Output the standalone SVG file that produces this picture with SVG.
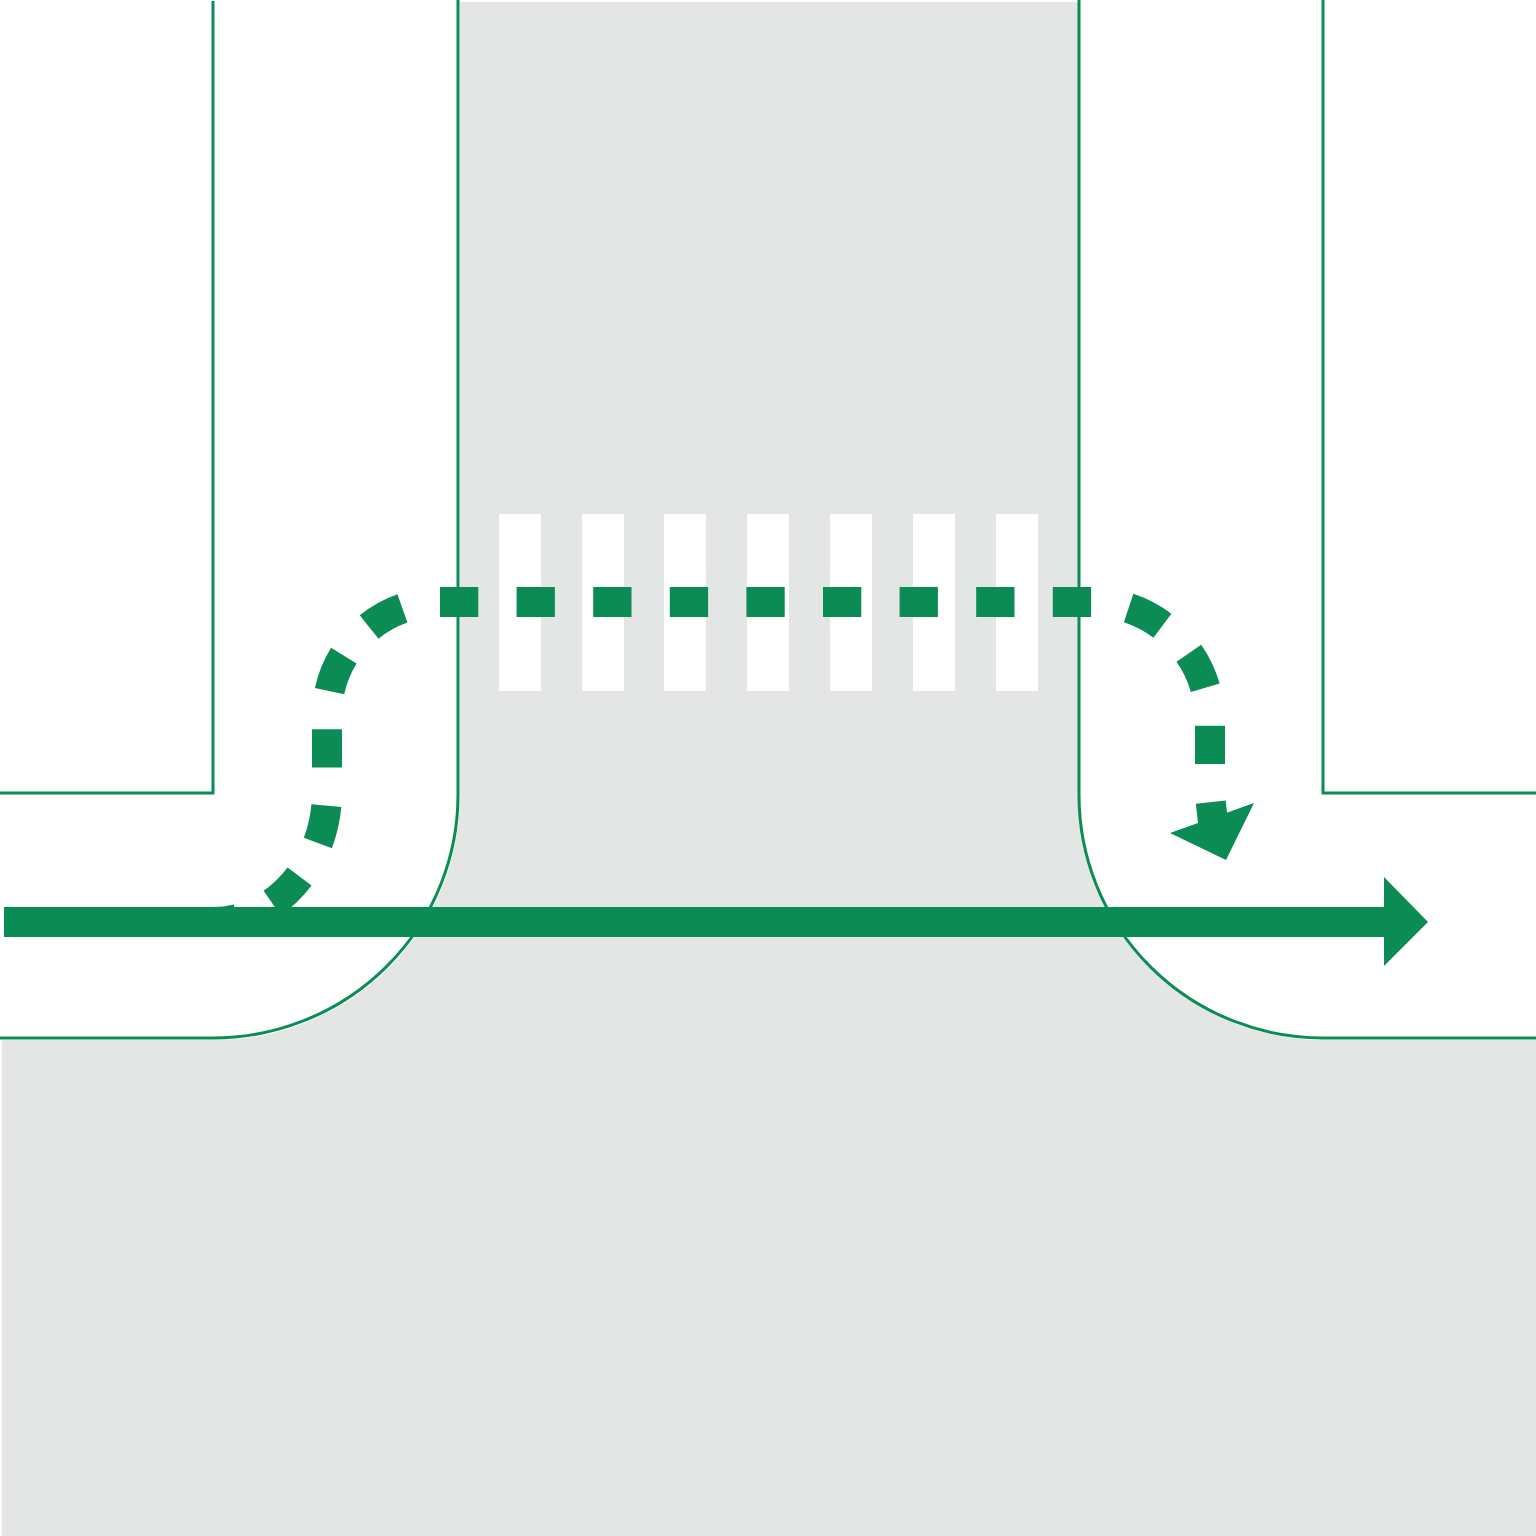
<svg xmlns="http://www.w3.org/2000/svg" width="1536" height="1536" viewBox="0 0 1536 1536">
  <style>
    .road { fill: #e4e5e5; }
    .edge { fill: none; stroke: #0b8c55; stroke-width: 3; }
    .stripe { fill: #ffffff; }
    .dash { fill: none; stroke: #0b8c55; stroke-width: 30; stroke-dasharray: 38.3 38.3; }
    .solid { fill: #0b8c55; }
  </style>
  <rect x="0" y="0" width="1536" height="1536" fill="#ffffff"/>
  <g id="road-surface">
    <path class="road" d="M 460 2 L 1078 2 L 1078 795 A 245 245 0 0 0 1323 1040 L 1536 1040 L 1536 1536 L 2 1536 L 2 1040 L 213 1040 A 245 245 0 0 0 460 795 Z"/>
  </g>
  <g id="crosswalk">
    <rect class="stripe" x="499" y="514" width="42" height="177"/>
    <rect class="stripe" x="582" y="514" width="42" height="177"/>
    <rect class="stripe" x="664" y="514" width="42" height="177"/>
    <rect class="stripe" x="747" y="514" width="42" height="177"/>
    <rect class="stripe" x="830" y="514" width="42" height="177"/>
    <rect class="stripe" x="913" y="514" width="42" height="177"/>
    <rect class="stripe" x="996" y="514" width="42" height="177"/>
  </g>
  <g id="road-edges">
    <path class="edge" d="M 458 0 L 458 795 A 245 243 0 0 1 213 1038 L 0 1038"/>
    <path class="edge" d="M 1079 0 L 1079 795 A 244 243 0 0 0 1323 1038 L 1536 1038"/>
    <path class="edge" d="M 213 1 L 213 793 L 0 793"/>
    <path class="edge" d="M 1323 0 L 1323 793 L 1536 793"/>
  </g>
  <g id="connectors">
    <path class="dash" d="M 440 602 L 1091.1 602"/>
    <path class="dash" stroke-dashoffset="38.3" d="M 440 602 A 113 113 0 0 0 327 715 L 327 792 A 114 130 0 0 1 213 922"/>
    <path class="dash" stroke-dashoffset="38.3" d="M 1091 602 A 119 119 0 0 1 1210 721 L 1210 795 L 1213 822"/>
    <polygon class="solid" points="1170,833 1254,803 1226,860"/>
    <rect class="solid" x="4" y="907" width="1381" height="30"/>
    <polygon class="solid" points="1384,877 1428,922 1384,966"/>
  </g>
</svg>
